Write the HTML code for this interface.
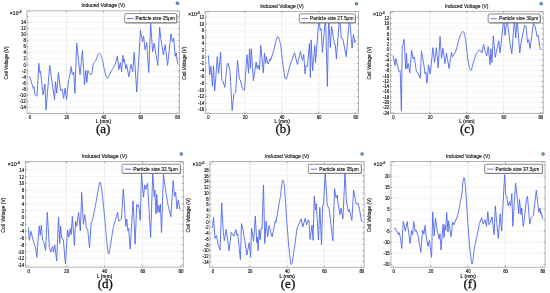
<!DOCTYPE html><html><head><meta charset="utf-8"><title>Induced Voltage</title>
<style>html,body{margin:0;padding:0;background:#fff}svg{display:block}text{font-family:"Liberation Sans",sans-serif;fill:#222;stroke:#222;stroke-width:.16px;paint-order:stroke}.t{stroke-width:.2px}.cap{font-family:"Liberation Serif",serif;fill:#111;stroke:#111;stroke-width:.3px}</style></head><body>
<svg width="550" height="293" viewBox="0 0 550 293">
<rect width="550" height="293" fill="#fff"/>
<defs><filter id="soft" x="0" y="0" width="100%" height="100%" filterUnits="userSpaceOnUse" color-interpolation-filters="sRGB"><feGaussianBlur stdDeviation="0.35"/></filter></defs>
<g filter="url(#soft)">
<g>
<path d="M27 107.32H179.4M27 101.26H179.4M27 95.2H179.4M27 89.14H179.4M27 83.08H179.4M27 77.02H179.4M27 70.96H179.4M27 64.9H179.4M27 58.84H179.4M27 52.78H179.4M27 46.72H179.4M27 40.66H179.4M27 34.6H179.4M27 28.54H179.4M27 22.48H179.4M27 16.42H179.4" stroke="#eeeeee" stroke-width="0.6" fill="none"/>
<path d="M66.47 10.85V113.4M103.45 10.85V113.4M140.43 10.85V113.4" stroke="#e2e2e2" stroke-width="0.6" fill="none"/>
<rect x="27" y="10.85" width="152.4" height="102.55" fill="none" stroke="#a4a4a4" stroke-width="0.8"/>
<path d="M29.5 113.4v-1.5M29.5 10.85v1.5M66.47 113.4v-1.5M66.47 10.85v1.5M103.45 113.4v-1.5M103.45 10.85v1.5M140.43 113.4v-1.5M140.43 10.85v1.5M177.4 113.4v-1.5M177.4 10.85v1.5M27 107.32h1.5M179.4 107.32h-1.5M27 101.26h1.5M179.4 101.26h-1.5M27 95.2h1.5M179.4 95.2h-1.5M27 89.14h1.5M179.4 89.14h-1.5M27 83.08h1.5M179.4 83.08h-1.5M27 77.02h1.5M179.4 77.02h-1.5M27 70.96h1.5M179.4 70.96h-1.5M27 64.9h1.5M179.4 64.9h-1.5M27 58.84h1.5M179.4 58.84h-1.5M27 52.78h1.5M179.4 52.78h-1.5M27 46.72h1.5M179.4 46.72h-1.5M27 40.66h1.5M179.4 40.66h-1.5M27 34.6h1.5M179.4 34.6h-1.5M27 28.54h1.5M179.4 28.54h-1.5M27 22.48h1.5M179.4 22.48h-1.5M27 16.42h1.5M179.4 16.42h-1.5" stroke="#6a6a6a" stroke-width="0.55" fill="none"/>
<clipPath id="ca"><rect x="27" y="10.85" width="152.4" height="102.55"/></clipPath>
<polyline clip-path="url(#ca)" points="29.6,76.2 32.19,84.6 33.3,88.5 33.85,86.7 35.14,94.8 36.99,96.3 38.84,63.3 39.76,72.6 40.5,71.1 43.09,94.8 44.93,84 46.04,110.1 49.74,65.4 54.54,99.9 55.47,81.6 56.76,93.3 58.42,72.6 60.64,90.6 62.12,89.1 63.59,98.4 65.07,88.2 66.55,99.3 68.58,79.5 69.32,78.6 71.17,66.6 72.28,74.7 73.76,72 74.86,93.3 76.71,43.2 80.04,74.7 82.44,50.4 84.47,84.6 85.76,70.5 86.87,82.5 87.8,70.5 89.64,74.1 91.68,74.1 92.02,72.6 92.34,70.41 92.65,67.95 92.98,65.64 93.34,63.9 93.74,62.89 94.18,62.33 94.63,61.97 95.09,61.58 95.56,60.9 96.04,59.82 96.54,58.5 97.04,57.12 97.52,55.86 97.96,54.9 98.34,54.24 98.68,53.77 98.99,53.48 99.3,53.36 99.62,53.4 99.96,53.64 100.3,54.09 100.64,54.69 100.97,55.38 101.28,56.1 101.56,56.81 101.8,57.55 102.04,58.39 102.29,59.38 102.58,60.6 102.9,62.12 103.23,63.89 103.59,65.81 103.99,67.75 104.42,69.6 104.9,71.6 105.42,73.84 105.98,75.94 106.57,77.54 107.19,78.3 107.86,77.98 108.57,76.82 109.31,75.16 110.09,73.34 110.89,71.7 111.77,70.22 112.73,68.68 113.69,67.1 114.58,65.5 115.32,63.9 117.36,55.8 118.83,69.6 120.31,62.4 121.61,71.7 122.9,55.2 123.64,62.1 124.38,59.4 125.85,69 126.59,64.5 128.81,76.8 131.03,64.5 132.69,71.7 134.17,52.5 136.75,92.1 140.45,30.3 142.48,41.7 143.59,36 145.07,49.8 146.73,42.6 148.76,72.6 150.61,22.8 152.64,51.9 154.12,43.2 157.82,65.4 159.66,27.3 160.77,38.1 163.36,54.9 165.21,44.7 167.61,65.4 170.93,33.9 172.41,41.7 173.7,38.1 175.18,56.4 176.11,52.8 177.77,63.9" fill="none" stroke="#5069ec" stroke-width="0.9" stroke-linejoin="round"/>
<text class="t" transform="translate(25.8 108.92) scale(.88 1)" font-size="4.8" text-anchor="end">-14</text>
<text class="t" transform="translate(25.8 102.86) scale(.88 1)" font-size="4.8" text-anchor="end">-12</text>
<text class="t" transform="translate(25.8 96.8) scale(.88 1)" font-size="4.8" text-anchor="end">-10</text>
<text class="t" transform="translate(25.8 90.74) scale(.88 1)" font-size="4.8" text-anchor="end">-8</text>
<text class="t" transform="translate(25.8 84.68) scale(.88 1)" font-size="4.8" text-anchor="end">-6</text>
<text class="t" transform="translate(25.8 78.62) scale(.88 1)" font-size="4.8" text-anchor="end">-4</text>
<text class="t" transform="translate(25.8 72.56) scale(.88 1)" font-size="4.8" text-anchor="end">-2</text>
<text class="t" transform="translate(25.8 66.5) scale(.88 1)" font-size="4.8" text-anchor="end">0</text>
<text class="t" transform="translate(25.8 60.44) scale(.88 1)" font-size="4.8" text-anchor="end">2</text>
<text class="t" transform="translate(25.8 54.38) scale(.88 1)" font-size="4.8" text-anchor="end">4</text>
<text class="t" transform="translate(25.8 48.32) scale(.88 1)" font-size="4.8" text-anchor="end">6</text>
<text class="t" transform="translate(25.8 42.26) scale(.88 1)" font-size="4.8" text-anchor="end">8</text>
<text class="t" transform="translate(25.8 36.2) scale(.88 1)" font-size="4.8" text-anchor="end">10</text>
<text class="t" transform="translate(25.8 30.14) scale(.88 1)" font-size="4.8" text-anchor="end">12</text>
<text class="t" transform="translate(25.8 24.08) scale(.88 1)" font-size="4.8" text-anchor="end">14</text>
<text class="t" transform="translate(29.8 118.6) scale(.88 1)" font-size="4.8" text-anchor="middle">0</text>
<text class="t" transform="translate(66.77 118.6) scale(.88 1)" font-size="4.8" text-anchor="middle">20</text>
<text class="t" transform="translate(103.75 118.6) scale(.88 1)" font-size="4.8" text-anchor="middle">40</text>
<text class="t" transform="translate(140.73 118.6) scale(.88 1)" font-size="4.8" text-anchor="middle">60</text>
<text class="t" transform="translate(177.7 118.6) scale(.88 1)" font-size="4.8" text-anchor="middle">80</text>
<text x="103.2" y="7.45" font-size="4.97" text-anchor="middle">Induced Voltage (V)</text>
<text x="103.5" y="123.15" font-size="4.5" letter-spacing="0.22" text-anchor="middle" style="stroke-width:.22px">L (mm)</text>
<text transform="translate(7.6 62.92) rotate(-90)" font-size="4.75" text-anchor="middle">Coil Voltage (V)</text>
<text x="21.6" y="15.1" font-size="5.2" text-anchor="end">×10<tspan dy="-1.7" font-size="3.4">-6</tspan></text>
<rect x="125.4" y="14.4" width="52" height="9.1" fill="#777" opacity="0.8" rx="1"/>
<rect x="124.7" y="13.6" width="52" height="9.1" fill="#fff" stroke="#666" stroke-width="0.75" rx="1"/>
<path d="M127 18.5h6.6" stroke="#5069ec" stroke-width="0.9"/>
<text x="135.5" y="19.9" font-size="4.8">Particle size 25μm</text>
<circle cx="177.4" cy="3.25" r="1.75" fill="#3f63b8"/><ellipse cx="177.3" cy="3.25" rx="0.55" ry="1.3" fill="#8fcf8a"/>
<text class="cap" transform="translate(103.1 132.8) scale(1.05 1)" font-size="12.4" text-anchor="middle">(a)</text>
</g>
<g>
<path d="M205.3 109.8H358.55M205.3 103.2H358.55M205.3 96.6H358.55M205.3 90H358.55M205.3 83.4H358.55M205.3 76.8H358.55M205.3 70.2H358.55M205.3 63.6H358.55M205.3 57H358.55M205.3 50.4H358.55M205.3 43.8H358.55M205.3 37.2H358.55M205.3 30.6H358.55M205.3 24H358.55M205.3 17.4H358.55" stroke="#eeeeee" stroke-width="0.6" fill="none"/>
<path d="M244.9 11.4V113.35M281.8 11.4V113.35M318.7 11.4V113.35" stroke="#e2e2e2" stroke-width="0.6" fill="none"/>
<rect x="205.3" y="11.4" width="153.25" height="101.95" fill="none" stroke="#a4a4a4" stroke-width="0.8"/>
<path d="M208 113.35v-1.5M208 11.4v1.5M244.9 113.35v-1.5M244.9 11.4v1.5M281.8 113.35v-1.5M281.8 11.4v1.5M318.7 113.35v-1.5M318.7 11.4v1.5M355.6 113.35v-1.5M355.6 11.4v1.5M205.3 109.8h1.5M358.55 109.8h-1.5M205.3 103.2h1.5M358.55 103.2h-1.5M205.3 96.6h1.5M358.55 96.6h-1.5M205.3 90h1.5M358.55 90h-1.5M205.3 83.4h1.5M358.55 83.4h-1.5M205.3 76.8h1.5M358.55 76.8h-1.5M205.3 70.2h1.5M358.55 70.2h-1.5M205.3 63.6h1.5M358.55 63.6h-1.5M205.3 57h1.5M358.55 57h-1.5M205.3 50.4h1.5M358.55 50.4h-1.5M205.3 43.8h1.5M358.55 43.8h-1.5M205.3 37.2h1.5M358.55 37.2h-1.5M205.3 30.6h1.5M358.55 30.6h-1.5M205.3 24h1.5M358.55 24h-1.5M205.3 17.4h1.5M358.55 17.4h-1.5" stroke="#6a6a6a" stroke-width="0.55" fill="none"/>
<clipPath id="cb"><rect x="205.3" y="11.4" width="153.25" height="101.95"/></clipPath>
<polyline clip-path="url(#cb)" points="208.37,55.38 209.66,74.85 210.95,66.27 212.43,86.4 213.53,65.61 214.64,91.02 215.75,78.48 217.22,56.7 218.7,73.53 220.55,52.08 221.84,80.13 222.76,80.79 224.79,87.39 227.19,63.96 228.11,63.3 229.96,70.56 232.17,110.49 233.83,94.65 235.68,92.34 237.52,60.33 239.37,79.14 240.29,79.8 242.32,88.71 244.53,90.03 246.93,54.72 248.59,73.2 249.51,48.78 250.44,68.25 251.36,48.78 253.39,80.79 256.15,61.98 257.08,68.58 258.18,64.95 259.48,69.9 260.77,45.15 263.35,72.87 264.46,53.07 265.56,63.3 266.3,56.7 267.96,63.96 270.18,58.35 270.35,58.43 270.38,59.14 270.38,59.97 270.46,60.42 270.73,60 271.27,58.43 271.99,56.03 272.8,53.24 273.58,50.46 274.24,48.12 274.74,46.21 275.17,44.46 275.55,42.87 275.91,41.45 276.26,40.2 276.62,39.08 276.96,38.09 277.29,37.29 277.61,36.76 277.93,36.57 278.23,36.78 278.53,37.36 278.82,38.19 279.11,39.17 279.4,40.2 279.68,41.13 279.96,42.04 280.23,43.14 280.54,44.65 280.88,46.8 281.26,49.87 281.68,53.7 282.13,57.88 282.6,61.99 283.09,65.61 283.59,69.1 284.09,72.73 284.62,75.98 285.2,78.29 285.86,79.14 286.61,78.04 287.44,75.36 288.32,71.81 289.22,68.1 290.1,64.95 294.53,52.74 297.48,64.62 300.43,51.42 302.46,60.33 303.76,54.39 305.05,73.86 305.97,65.61 307.26,66.93 309.48,43.5 310.4,77.49 311.14,39.87 312.61,70.89 314.83,45.48 315.56,62.64 319.07,17.1 320.18,30.3 321.1,28.65 322.39,52.41 325.53,17.1 327.37,86.4 328.66,17.1 330.32,47.46 331.62,26.34 334.57,44.49 335.31,44.49 336.41,59.01 339.55,17.1 341.39,38.55 342.87,38.88 346.19,56.7 349.51,17.1 352.09,48.12 353.39,34.26 354.86,42.51 355.97,40.2" fill="none" stroke="#5069ec" stroke-width="0.9" stroke-linejoin="round"/>
<text class="t" transform="translate(204.1 111.4) scale(.88 1)" font-size="4.8" text-anchor="end">-16</text>
<text class="t" transform="translate(204.1 104.8) scale(.88 1)" font-size="4.8" text-anchor="end">-14</text>
<text class="t" transform="translate(204.1 98.2) scale(.88 1)" font-size="4.8" text-anchor="end">-12</text>
<text class="t" transform="translate(204.1 91.6) scale(.88 1)" font-size="4.8" text-anchor="end">-10</text>
<text class="t" transform="translate(204.1 85) scale(.88 1)" font-size="4.8" text-anchor="end">-8</text>
<text class="t" transform="translate(204.1 78.4) scale(.88 1)" font-size="4.8" text-anchor="end">-6</text>
<text class="t" transform="translate(204.1 71.8) scale(.88 1)" font-size="4.8" text-anchor="end">-4</text>
<text class="t" transform="translate(204.1 65.2) scale(.88 1)" font-size="4.8" text-anchor="end">-2</text>
<text class="t" transform="translate(204.1 58.6) scale(.88 1)" font-size="4.8" text-anchor="end">0</text>
<text class="t" transform="translate(204.1 52) scale(.88 1)" font-size="4.8" text-anchor="end">2</text>
<text class="t" transform="translate(204.1 45.4) scale(.88 1)" font-size="4.8" text-anchor="end">4</text>
<text class="t" transform="translate(204.1 38.8) scale(.88 1)" font-size="4.8" text-anchor="end">6</text>
<text class="t" transform="translate(204.1 32.2) scale(.88 1)" font-size="4.8" text-anchor="end">8</text>
<text class="t" transform="translate(204.1 25.6) scale(.88 1)" font-size="4.8" text-anchor="end">10</text>
<text class="t" transform="translate(204.1 19) scale(.88 1)" font-size="4.8" text-anchor="end">12</text>
<text class="t" transform="translate(208.3 118.55) scale(.88 1)" font-size="4.8" text-anchor="middle">0</text>
<text class="t" transform="translate(245.2 118.55) scale(.88 1)" font-size="4.8" text-anchor="middle">20</text>
<text class="t" transform="translate(282.1 118.55) scale(.88 1)" font-size="4.8" text-anchor="middle">40</text>
<text class="t" transform="translate(319 118.55) scale(.88 1)" font-size="4.8" text-anchor="middle">60</text>
<text class="t" transform="translate(355.9 118.55) scale(.88 1)" font-size="4.8" text-anchor="middle">80</text>
<text x="281.93" y="8" font-size="4.97" text-anchor="middle">Induced Voltage (V)</text>
<text x="282.23" y="123.1" font-size="4.5" letter-spacing="0.22" text-anchor="middle" style="stroke-width:.22px">L (mm)</text>
<text transform="translate(185.9 63.17) rotate(-90)" font-size="4.75" text-anchor="middle">Coil Voltage (V)</text>
<text x="199.9" y="15.65" font-size="5.2" text-anchor="end">×10<tspan dy="-1.7" font-size="3.4">-6</tspan></text>
<rect x="300" y="14.7" width="56" height="8.8" fill="#777" opacity="0.8" rx="1"/>
<rect x="299.3" y="13.9" width="56" height="8.8" fill="#fff" stroke="#666" stroke-width="0.75" rx="1"/>
<path d="M301.6 18.65h6.6" stroke="#5069ec" stroke-width="0.9"/>
<text x="310.1" y="20.05" font-size="4.8">Particle size 27.5μm</text>
<circle cx="356.55" cy="3.8" r="1.75" fill="#3f63b8"/><ellipse cx="356.45" cy="3.8" rx="0.55" ry="1.3" fill="#8fcf8a"/>
<text class="cap" transform="translate(283.1 132.8) scale(1.05 1)" font-size="12.4" text-anchor="middle">(b)</text>
</g>
<g>
<path d="M390.3 112.92H543.2M390.3 107.65H543.2M390.3 102.38H543.2M390.3 97.11H543.2M390.3 91.84H543.2M390.3 86.58H543.2M390.3 81.31H543.2M390.3 76.04H543.2M390.3 70.77H543.2M390.3 65.5H543.2M390.3 60.24H543.2M390.3 54.97H543.2M390.3 49.7H543.2M390.3 44.43H543.2M390.3 39.16H543.2M390.3 33.9H543.2M390.3 28.63H543.2M390.3 23.36H543.2M390.3 18.09H543.2M390.3 12.82H543.2" stroke="#eeeeee" stroke-width="0.6" fill="none"/>
<path d="M429.88 11.3V113.35M466.75 11.3V113.35M503.62 11.3V113.35" stroke="#e2e2e2" stroke-width="0.6" fill="none"/>
<rect x="390.3" y="11.3" width="152.9" height="102.05" fill="none" stroke="#a4a4a4" stroke-width="0.8"/>
<path d="M393 113.35v-1.5M393 11.3v1.5M429.88 113.35v-1.5M429.88 11.3v1.5M466.75 113.35v-1.5M466.75 11.3v1.5M503.62 113.35v-1.5M503.62 11.3v1.5M540.5 113.35v-1.5M540.5 11.3v1.5M390.3 112.92h1.5M543.2 112.92h-1.5M390.3 107.65h1.5M543.2 107.65h-1.5M390.3 102.38h1.5M543.2 102.38h-1.5M390.3 97.11h1.5M543.2 97.11h-1.5M390.3 91.84h1.5M543.2 91.84h-1.5M390.3 86.58h1.5M543.2 86.58h-1.5M390.3 81.31h1.5M543.2 81.31h-1.5M390.3 76.04h1.5M543.2 76.04h-1.5M390.3 70.77h1.5M543.2 70.77h-1.5M390.3 65.5h1.5M543.2 65.5h-1.5M390.3 60.24h1.5M543.2 60.24h-1.5M390.3 54.97h1.5M543.2 54.97h-1.5M390.3 49.7h1.5M543.2 49.7h-1.5M390.3 44.43h1.5M543.2 44.43h-1.5M390.3 39.16h1.5M543.2 39.16h-1.5M390.3 33.9h1.5M543.2 33.9h-1.5M390.3 28.63h1.5M543.2 28.63h-1.5M390.3 23.36h1.5M543.2 23.36h-1.5M390.3 18.09h1.5M543.2 18.09h-1.5M390.3 12.82h1.5M543.2 12.82h-1.5" stroke="#6a6a6a" stroke-width="0.55" fill="none"/>
<clipPath id="cc"><rect x="390.3" y="11.3" width="152.9" height="102.05"/></clipPath>
<polyline clip-path="url(#cc)" points="393,55.54 395.03,65.46 395.95,58.41 398.9,71.46 400.2,70.68 401.39,110.61 402.23,45.36 403.15,44.84 404.07,39.36 405.73,69.11 406.47,53.19 407.21,68.59 408.13,63.37 409.79,72.77 411.63,50.32 413.11,58.93 414.22,56.85 416.43,71.72 417.91,72.77 420.31,78.25 421.41,51.1 422.89,58.41 425.1,73.81 425.84,71.98 426.95,83.21 428.61,64.94 430.27,74.07 432.85,47.71 434.51,62.59 436.36,47.71 438.2,68.07 440.05,36.49 441.52,58.41 443,48.23 445.03,63.63 446.5,53.19 449.09,68.59 451.49,52.41 452.41,56.85 455.55,51.89 456.27,49.63 457.06,46.78 457.85,43.72 458.59,40.86 459.24,38.58 459.75,36.97 460.18,35.76 460.56,34.83 460.91,34.07 461.26,33.36 461.62,32.66 461.96,32.06 462.29,31.6 462.61,31.32 462.93,31.27 463.23,31.45 463.53,31.83 463.82,32.42 464.11,33.19 464.4,34.14 464.68,35.16 464.96,36.25 465.23,37.59 465.54,39.35 465.88,41.71 466.26,45.02 466.68,49.18 467.13,53.63 467.6,57.85 468.09,61.28 468.62,64.05 469.18,66.49 469.75,68.47 470.32,69.83 470.86,70.42 471.35,70.01 471.8,68.69 472.25,66.83 472.72,64.76 473.26,62.85 473.87,60.95 474.54,58.84 475.23,56.71 475.92,54.76 476.58,53.19 479.53,49.8 481.93,52.93 483.59,44.58 485.43,52.41 486.73,56.06 488.2,46.67 490.05,64.68 490.97,48.76 491.89,62.59 493.37,35.71 495.21,57.37 498.72,40.93 500.01,52.93 501.49,40.14 503.7,18.48 505.08,35.45 507.02,18.48 510.34,45.62 511.82,53.71 514.4,18.48 515.78,38.05 517.17,18.48 519.75,52.93 521.04,42.49 524.55,25.53 526.02,26.31 527.5,42.49 528.61,39.62 530.08,48.49 533.4,23.44 535.43,27.09 536.91,36.49 538.2,35.18 539.86,47.45 540.6,49.8" fill="none" stroke="#5069ec" stroke-width="0.9" stroke-linejoin="round"/>
<text class="t" transform="translate(389.1 114.52) scale(.88 1)" font-size="4.8" text-anchor="end">-24</text>
<text class="t" transform="translate(389.1 109.25) scale(.88 1)" font-size="4.8" text-anchor="end">-22</text>
<text class="t" transform="translate(389.1 103.98) scale(.88 1)" font-size="4.8" text-anchor="end">-20</text>
<text class="t" transform="translate(389.1 98.71) scale(.88 1)" font-size="4.8" text-anchor="end">-18</text>
<text class="t" transform="translate(389.1 93.44) scale(.88 1)" font-size="4.8" text-anchor="end">-16</text>
<text class="t" transform="translate(389.1 88.18) scale(.88 1)" font-size="4.8" text-anchor="end">-14</text>
<text class="t" transform="translate(389.1 82.91) scale(.88 1)" font-size="4.8" text-anchor="end">-12</text>
<text class="t" transform="translate(389.1 77.64) scale(.88 1)" font-size="4.8" text-anchor="end">-10</text>
<text class="t" transform="translate(389.1 72.37) scale(.88 1)" font-size="4.8" text-anchor="end">-8</text>
<text class="t" transform="translate(389.1 67.1) scale(.88 1)" font-size="4.8" text-anchor="end">-6</text>
<text class="t" transform="translate(389.1 61.84) scale(.88 1)" font-size="4.8" text-anchor="end">-4</text>
<text class="t" transform="translate(389.1 56.57) scale(.88 1)" font-size="4.8" text-anchor="end">-2</text>
<text class="t" transform="translate(389.1 51.3) scale(.88 1)" font-size="4.8" text-anchor="end">0</text>
<text class="t" transform="translate(389.1 46.03) scale(.88 1)" font-size="4.8" text-anchor="end">2</text>
<text class="t" transform="translate(389.1 40.76) scale(.88 1)" font-size="4.8" text-anchor="end">4</text>
<text class="t" transform="translate(389.1 35.5) scale(.88 1)" font-size="4.8" text-anchor="end">6</text>
<text class="t" transform="translate(389.1 30.23) scale(.88 1)" font-size="4.8" text-anchor="end">8</text>
<text class="t" transform="translate(389.1 24.96) scale(.88 1)" font-size="4.8" text-anchor="end">10</text>
<text class="t" transform="translate(389.1 19.69) scale(.88 1)" font-size="4.8" text-anchor="end">12</text>
<text class="t" transform="translate(393.3 118.55) scale(.88 1)" font-size="4.8" text-anchor="middle">0</text>
<text class="t" transform="translate(430.18 118.55) scale(.88 1)" font-size="4.8" text-anchor="middle">20</text>
<text class="t" transform="translate(467.05 118.55) scale(.88 1)" font-size="4.8" text-anchor="middle">40</text>
<text class="t" transform="translate(503.93 118.55) scale(.88 1)" font-size="4.8" text-anchor="middle">60</text>
<text class="t" transform="translate(540.8 118.55) scale(.88 1)" font-size="4.8" text-anchor="middle">80</text>
<text x="466.75" y="7.9" font-size="4.97" text-anchor="middle">Induced Voltage (V)</text>
<text x="467.05" y="123.1" font-size="4.5" letter-spacing="0.22" text-anchor="middle" style="stroke-width:.22px">L (mm)</text>
<text transform="translate(370.9 63.12) rotate(-90)" font-size="4.75" text-anchor="middle">Coil Voltage (V)</text>
<text x="384.9" y="15.55" font-size="5.2" text-anchor="end">×10<tspan dy="-1.7" font-size="3.4">-6</tspan></text>
<rect x="488.9" y="14.8" width="52" height="8.7" fill="#777" opacity="0.8" rx="1"/>
<rect x="488.2" y="14" width="52" height="8.7" fill="#fff" stroke="#666" stroke-width="0.75" rx="1"/>
<path d="M490.5 18.7h6.6" stroke="#5069ec" stroke-width="0.9"/>
<text x="499" y="20.1" font-size="4.8">Particle size 30μm</text>
<circle cx="541.2" cy="3.7" r="1.75" fill="#3f63b8"/><ellipse cx="541.1" cy="3.7" rx="0.55" ry="1.3" fill="#8fcf8a"/>
<text class="cap" transform="translate(467.2 132.8) scale(1.05 1)" font-size="12.4" text-anchor="middle">(c)</text>
</g>
<g>
<path d="M25.4 265.07H183.3M25.4 258.26H183.3M25.4 251.45H183.3M25.4 244.64H183.3M25.4 237.83H183.3M25.4 231.02H183.3M25.4 224.21H183.3M25.4 217.4H183.3M25.4 210.59H183.3M25.4 203.78H183.3M25.4 196.97H183.3M25.4 190.16H183.3M25.4 183.35H183.3M25.4 176.54H183.3M25.4 169.73H183.3M25.4 162.92H183.3" stroke="#eeeeee" stroke-width="0.6" fill="none"/>
<path d="M66.38 161.55V267.1M104.45 161.55V267.1M142.53 161.55V267.1" stroke="#e2e2e2" stroke-width="0.6" fill="none"/>
<rect x="25.4" y="161.55" width="157.9" height="105.55" fill="none" stroke="#a4a4a4" stroke-width="0.8"/>
<path d="M28.3 267.1v-1.5M28.3 161.55v1.5M66.38 267.1v-1.5M66.38 161.55v1.5M104.45 267.1v-1.5M104.45 161.55v1.5M142.53 267.1v-1.5M142.53 161.55v1.5M180.6 267.1v-1.5M180.6 161.55v1.5M25.4 265.07h1.5M183.3 265.07h-1.5M25.4 258.26h1.5M183.3 258.26h-1.5M25.4 251.45h1.5M183.3 251.45h-1.5M25.4 244.64h1.5M183.3 244.64h-1.5M25.4 237.83h1.5M183.3 237.83h-1.5M25.4 231.02h1.5M183.3 231.02h-1.5M25.4 224.21h1.5M183.3 224.21h-1.5M25.4 217.4h1.5M183.3 217.4h-1.5M25.4 210.59h1.5M183.3 210.59h-1.5M25.4 203.78h1.5M183.3 203.78h-1.5M25.4 196.97h1.5M183.3 196.97h-1.5M25.4 190.16h1.5M183.3 190.16h-1.5M25.4 183.35h1.5M183.3 183.35h-1.5M25.4 176.54h1.5M183.3 176.54h-1.5M25.4 169.73h1.5M183.3 169.73h-1.5M25.4 162.92h1.5M183.3 162.92h-1.5" stroke="#6a6a6a" stroke-width="0.55" fill="none"/>
<clipPath id="cd"><rect x="25.4" y="161.55" width="157.9" height="105.55"/></clipPath>
<polyline clip-path="url(#cd)" points="28.39,227.2 29.35,240.38 30.87,231.26 33.55,242.07 35.65,247.82 36.8,257.28 39.28,225.85 40.23,235.31 41.38,225.17 42.52,240.38 43.67,241.4 45.58,250.52 47.3,212.33 49.4,247.82 50.93,252.21 52.46,246.47 53.6,252.21 54.75,244.78 56.66,261 58.57,217.4 59.71,243.43 60.67,226.19 61.43,237 63.34,239.71 65.44,264.04 67.55,229.91 68.88,237 70.22,228.55 71.17,234.64 72.32,216.39 74.42,245.45 75.57,221.12 76.71,226.19 78.62,212.33 80.34,230.92 81.68,192.39 83.4,224.16 84.74,214.7 86.45,227.88 87.79,229.91 89.51,247.82 91.23,222.47 92.38,220.44 92.84,218.47 93.4,215.86 94.01,212.87 94.64,209.7 95.24,206.58 95.83,203.37 96.43,199.89 97.03,196.4 97.59,193.15 98.11,190.36 98.55,187.9 98.95,185.61 99.31,183.7 99.66,182.39 100.02,181.91 100.37,182.38 100.71,183.67 101.04,185.56 101.38,187.86 101.73,190.36 102.1,193.15 102.49,196.35 102.87,199.85 103.26,203.53 103.64,207.26 104.03,211.15 104.43,215.29 104.82,219.51 105.2,223.65 105.55,227.54 105.89,231.25 106.19,234.88 106.49,238.35 106.78,241.57 107.08,244.44 107.39,247.14 107.69,249.73 107.99,251.95 108.29,253.54 108.61,254.24 108.93,253.89 109.25,252.66 109.58,250.79 109.93,248.54 110.33,246.13 110.8,243.29 111.32,239.86 111.87,236.27 112.38,232.92 112.81,230.24 113.12,228.49 113.33,227.38 113.52,226.54 113.77,225.59 114.15,224.16 117.59,212.33 118.54,221.12 121.41,219.09 123.32,189.01 125.8,226.19 126.76,219.09 127.9,230.92 128.67,228.22 130.19,249.17 133.06,200.84 135.16,244.1 136.69,204.56 137.64,206.58 138.6,204.56 140.32,220.44 141.46,173.8 143.56,197.12 144.71,184.95 145.86,189.35 147.57,183.26 150.63,237.34 152.73,173.46 154.26,196.44 154.83,190.02 155.98,214.02 156.74,194.42 157.89,212.33 158.84,205.57 159.61,212.33 160.37,203.88 161.52,232.61 163.43,174.47 165.15,186.98 168.01,205.23 170.88,216.72 173.17,180.56 174.51,196.44 175.65,192.05 176.99,208.95 178.33,199.82 179.85,209.63" fill="none" stroke="#5069ec" stroke-width="0.9" stroke-linejoin="round"/>
<text class="t" transform="translate(24.2 267.13) scale(.88 1)" font-size="4.97" text-anchor="end">-14</text>
<text class="t" transform="translate(24.2 260.32) scale(.88 1)" font-size="4.97" text-anchor="end">-12</text>
<text class="t" transform="translate(24.2 253.51) scale(.88 1)" font-size="4.97" text-anchor="end">-10</text>
<text class="t" transform="translate(24.2 246.7) scale(.88 1)" font-size="4.97" text-anchor="end">-8</text>
<text class="t" transform="translate(24.2 239.89) scale(.88 1)" font-size="4.97" text-anchor="end">-6</text>
<text class="t" transform="translate(24.2 233.08) scale(.88 1)" font-size="4.97" text-anchor="end">-4</text>
<text class="t" transform="translate(24.2 226.27) scale(.88 1)" font-size="4.97" text-anchor="end">-2</text>
<text class="t" transform="translate(24.2 219.46) scale(.88 1)" font-size="4.97" text-anchor="end">0</text>
<text class="t" transform="translate(24.2 212.65) scale(.88 1)" font-size="4.97" text-anchor="end">2</text>
<text class="t" transform="translate(24.2 205.84) scale(.88 1)" font-size="4.97" text-anchor="end">4</text>
<text class="t" transform="translate(24.2 199.03) scale(.88 1)" font-size="4.97" text-anchor="end">6</text>
<text class="t" transform="translate(24.2 192.22) scale(.88 1)" font-size="4.97" text-anchor="end">8</text>
<text class="t" transform="translate(24.2 185.41) scale(.88 1)" font-size="4.97" text-anchor="end">10</text>
<text class="t" transform="translate(24.2 178.6) scale(.88 1)" font-size="4.97" text-anchor="end">12</text>
<text class="t" transform="translate(24.2 171.79) scale(.88 1)" font-size="4.97" text-anchor="end">14</text>
<text class="t" transform="translate(28.6 273.38) scale(.88 1)" font-size="4.97" text-anchor="middle">0</text>
<text class="t" transform="translate(66.67 273.38) scale(.88 1)" font-size="4.97" text-anchor="middle">20</text>
<text class="t" transform="translate(104.75 273.38) scale(.88 1)" font-size="4.97" text-anchor="middle">40</text>
<text class="t" transform="translate(142.83 273.38) scale(.88 1)" font-size="4.97" text-anchor="middle">60</text>
<text class="t" transform="translate(180.9 273.38) scale(.88 1)" font-size="4.97" text-anchor="middle">80</text>
<text x="104.35" y="158.03" font-size="5.14" text-anchor="middle">Induced Voltage (V)</text>
<text x="104.65" y="278.09" font-size="4.66" letter-spacing="0.22" text-anchor="middle" style="stroke-width:.22px">L (mm)</text>
<text transform="translate(5.32 215.13) rotate(-90)" font-size="5.05" text-anchor="middle">Coil Voltage (V)</text>
<text x="20" y="165.95" font-size="5.38" text-anchor="end">×10<tspan dy="-1.76" font-size="3.52">-6</tspan></text>
<rect x="122.8" y="165.1" width="58.2" height="9" fill="#777" opacity="0.8" rx="1"/>
<rect x="122.1" y="164.3" width="58.2" height="9" fill="#fff" stroke="#666" stroke-width="0.75" rx="1"/>
<path d="M124.48 169.15h6.83" stroke="#5069ec" stroke-width="0.9"/>
<text x="133.28" y="170.61" font-size="4.97">Particle size 32.5μm</text>
<circle cx="181.3" cy="153.95" r="1.75" fill="#3f63b8"/><ellipse cx="181.2" cy="153.95" rx="0.55" ry="1.3" fill="#8fcf8a"/>
<text class="cap" transform="translate(105.3 287.9) scale(1.05 1)" font-size="12.4" text-anchor="middle">(d)</text>
</g>
<g>
<path d="M209.85 261.77H364.1M209.85 256.03H364.1M209.85 250.29H364.1M209.85 244.55H364.1M209.85 238.81H364.1M209.85 233.08H364.1M209.85 227.34H364.1M209.85 221.6H364.1M209.85 215.86H364.1M209.85 210.12H364.1M209.85 204.39H364.1M209.85 198.65H364.1M209.85 192.91H364.1M209.85 187.17H364.1M209.85 181.43H364.1M209.85 175.7H364.1M209.85 169.96H364.1M209.85 164.22H364.1" stroke="#eeeeee" stroke-width="0.6" fill="none"/>
<path d="M249.82 161.55V267.3M287.05 161.55V267.3M324.27 161.55V267.3" stroke="#e2e2e2" stroke-width="0.6" fill="none"/>
<rect x="209.85" y="161.55" width="154.25" height="105.75" fill="none" stroke="#a4a4a4" stroke-width="0.8"/>
<path d="M212.6 267.3v-1.5M212.6 161.55v1.5M249.82 267.3v-1.5M249.82 161.55v1.5M287.05 267.3v-1.5M287.05 161.55v1.5M324.27 267.3v-1.5M324.27 161.55v1.5M361.5 267.3v-1.5M361.5 161.55v1.5M209.85 261.77h1.5M364.1 261.77h-1.5M209.85 256.03h1.5M364.1 256.03h-1.5M209.85 250.29h1.5M364.1 250.29h-1.5M209.85 244.55h1.5M364.1 244.55h-1.5M209.85 238.81h1.5M364.1 238.81h-1.5M209.85 233.08h1.5M364.1 233.08h-1.5M209.85 227.34h1.5M364.1 227.34h-1.5M209.85 221.6h1.5M364.1 221.6h-1.5M209.85 215.86h1.5M364.1 215.86h-1.5M209.85 210.12h1.5M364.1 210.12h-1.5M209.85 204.39h1.5M364.1 204.39h-1.5M209.85 198.65h1.5M364.1 198.65h-1.5M209.85 192.91h1.5M364.1 192.91h-1.5M209.85 187.17h1.5M364.1 187.17h-1.5M209.85 181.43h1.5M364.1 181.43h-1.5M209.85 175.7h1.5M364.1 175.7h-1.5M209.85 169.96h1.5M364.1 169.96h-1.5M209.85 164.22h1.5M364.1 164.22h-1.5" stroke="#6a6a6a" stroke-width="0.55" fill="none"/>
<clipPath id="ce"><rect x="209.85" y="161.55" width="154.25" height="105.75"/></clipPath>
<polyline clip-path="url(#ce)" points="212.4,227.8 213.52,217.49 215.01,238.39 216.5,235.24 217.81,243.54 220.05,250.12 221.72,202.89 223.22,232.09 224.34,240.68 226.2,229.23 229,250.7 231.24,232.38 233.85,236.1 235.9,229.51 237.02,235.53 237.76,233.81 240.38,259.57 241.49,223.5 242.99,229.8 245.04,242.11 246.9,254.99 249.14,242.68 250.63,257.28 251.56,228.37 253.62,241.25 255.3,216.06 256.79,242.68 257.35,237.24 258.09,250.7 259.21,229.8 260.14,239.82 261.08,228.37 262.01,228.94 263.5,185 264.81,243.54 266.11,221.21 267.6,236.96 269.1,225.51 272.08,236.96 275.25,221.21 275.51,220.6 275.6,221.23 275.63,222.22 275.72,222.69 276,221.79 276.53,218.98 277.25,214.87 278.03,210.2 278.77,205.77 279.35,202.32 279.75,200.11 280.03,198.63 280.25,197.51 280.44,196.38 280.66,194.88 280.9,192.86 281.13,190.57 281.35,188.22 281.57,186.05 281.78,184.29 281.97,182.89 282.15,181.7 282.32,180.79 282.5,180.2 282.71,179.99 282.95,180.19 283.21,180.75 283.49,181.64 283.76,182.83 284.02,184.29 284.25,185.96 284.47,187.89 284.68,190.11 284.9,192.71 285.13,195.74 285.38,199.43 285.64,203.76 285.91,208.35 286.18,212.86 286.44,216.92 286.7,220.48 286.97,223.79 287.24,226.91 287.5,229.94 287.75,232.95 287.96,235.88 288.14,238.66 288.33,241.41 288.56,244.24 288.87,247.26 289.26,251.02 289.72,255.44 290.23,259.7 290.76,262.97 291.29,264.44 291.83,263.67 292.39,261.21 292.96,257.71 293.53,253.8 294.09,250.12 294.65,246.37 295.22,242.1 295.77,237.8 296.27,233.93 296.7,230.95 296.98,229.14 297.15,228.2 297.28,227.7 297.47,227.23 297.82,226.37 301.17,218.92 302.85,226.94 305.09,218.35 306.58,224.94 308.07,219.78 309.01,220.93 310.13,239.53 311.99,224.94 313.11,240.39 314.23,196.31 315.35,210.05 316.28,203.47 318.52,240.11 319.82,207.47 321.5,244.97 322.62,205.18 323.55,204.9 325.23,172.84 327.28,205.18 329.15,208.91 332.88,240.68 334.56,188.58 336.05,198.03 337.36,194.88 337.73,201.46 339.97,214.63 341.09,208.05 342.95,218.92 345,172.84 346.49,202.03 348.36,211.77 349.29,209.48 351.9,220.35 353.58,190.01 355.26,198.6 356,203.75 358.24,203.47 359.36,208.62 361.6,221.79" fill="none" stroke="#5069ec" stroke-width="0.9" stroke-linejoin="round"/>
<text class="t" transform="translate(208.65 263.78) scale(.88 1)" font-size="4.85" text-anchor="end">-14</text>
<text class="t" transform="translate(208.65 258.05) scale(.88 1)" font-size="4.85" text-anchor="end">-12</text>
<text class="t" transform="translate(208.65 252.31) scale(.88 1)" font-size="4.85" text-anchor="end">-10</text>
<text class="t" transform="translate(208.65 246.57) scale(.88 1)" font-size="4.85" text-anchor="end">-8</text>
<text class="t" transform="translate(208.65 240.83) scale(.88 1)" font-size="4.85" text-anchor="end">-6</text>
<text class="t" transform="translate(208.65 235.09) scale(.88 1)" font-size="4.85" text-anchor="end">-4</text>
<text class="t" transform="translate(208.65 229.36) scale(.88 1)" font-size="4.85" text-anchor="end">-2</text>
<text class="t" transform="translate(208.65 223.62) scale(.88 1)" font-size="4.85" text-anchor="end">0</text>
<text class="t" transform="translate(208.65 217.88) scale(.88 1)" font-size="4.85" text-anchor="end">2</text>
<text class="t" transform="translate(208.65 212.14) scale(.88 1)" font-size="4.85" text-anchor="end">4</text>
<text class="t" transform="translate(208.65 206.4) scale(.88 1)" font-size="4.85" text-anchor="end">6</text>
<text class="t" transform="translate(208.65 200.67) scale(.88 1)" font-size="4.85" text-anchor="end">8</text>
<text class="t" transform="translate(208.65 194.93) scale(.88 1)" font-size="4.85" text-anchor="end">10</text>
<text class="t" transform="translate(208.65 189.19) scale(.88 1)" font-size="4.85" text-anchor="end">12</text>
<text class="t" transform="translate(208.65 183.45) scale(.88 1)" font-size="4.85" text-anchor="end">14</text>
<text class="t" transform="translate(208.65 177.71) scale(.88 1)" font-size="4.85" text-anchor="end">16</text>
<text class="t" transform="translate(208.65 171.98) scale(.88 1)" font-size="4.85" text-anchor="end">18</text>
<text class="t" transform="translate(212.9 273.45) scale(.88 1)" font-size="4.85" text-anchor="middle">0</text>
<text class="t" transform="translate(250.12 273.45) scale(.88 1)" font-size="4.85" text-anchor="middle">20</text>
<text class="t" transform="translate(287.35 273.45) scale(.88 1)" font-size="4.85" text-anchor="middle">40</text>
<text class="t" transform="translate(324.57 273.45) scale(.88 1)" font-size="4.85" text-anchor="middle">60</text>
<text class="t" transform="translate(361.8 273.45) scale(.88 1)" font-size="4.85" text-anchor="middle">80</text>
<text x="286.98" y="158.12" font-size="5.02" text-anchor="middle">Induced Voltage (V)</text>
<text x="287.28" y="278.05" font-size="4.54" letter-spacing="0.22" text-anchor="middle" style="stroke-width:.22px">L (mm)</text>
<text transform="translate(190.26 215.23) rotate(-90)" font-size="4.95" text-anchor="middle">Coil Voltage (V)</text>
<text x="204.45" y="165.84" font-size="5.25" text-anchor="end">×10<tspan dy="-1.72" font-size="3.43">-6</tspan></text>
<rect x="309" y="165.1" width="53" height="9" fill="#777" opacity="0.8" rx="1"/>
<rect x="308.3" y="164.3" width="53" height="9" fill="#fff" stroke="#666" stroke-width="0.75" rx="1"/>
<path d="M310.62 169.15h6.67" stroke="#5069ec" stroke-width="0.9"/>
<text x="319.21" y="170.57" font-size="4.85">Particle size 35μm</text>
<circle cx="362.1" cy="153.95" r="1.75" fill="#3f63b8"/><ellipse cx="362" cy="153.95" rx="0.55" ry="1.3" fill="#8fcf8a"/>
<text class="cap" transform="translate(288 287.9) scale(1.05 1)" font-size="12.4" text-anchor="middle">(e)</text>
</g>
<g>
<path d="M390.9 264.28H545.05M390.9 253.26H545.05M390.9 242.24H545.05M390.9 231.22H545.05M390.9 220.2H545.05M390.9 209.18H545.05M390.9 198.16H545.05M390.9 187.14H545.05M390.9 176.12H545.05M390.9 165.1H545.05" stroke="#eeeeee" stroke-width="0.6" fill="none"/>
<path d="M430.66 161.55V267.2M467.93 161.55V267.2M505.19 161.55V267.2" stroke="#e2e2e2" stroke-width="0.6" fill="none"/>
<rect x="390.9" y="161.55" width="154.15" height="105.65" fill="none" stroke="#a4a4a4" stroke-width="0.8"/>
<path d="M393.4 267.2v-1.5M393.4 161.55v1.5M430.66 267.2v-1.5M430.66 161.55v1.5M467.93 267.2v-1.5M467.93 161.55v1.5M505.19 267.2v-1.5M505.19 161.55v1.5M542.45 267.2v-1.5M542.45 161.55v1.5M390.9 264.28h1.5M545.05 264.28h-1.5M390.9 253.26h1.5M545.05 253.26h-1.5M390.9 242.24h1.5M545.05 242.24h-1.5M390.9 231.22h1.5M545.05 231.22h-1.5M390.9 220.2h1.5M545.05 220.2h-1.5M390.9 209.18h1.5M545.05 209.18h-1.5M390.9 198.16h1.5M545.05 198.16h-1.5M390.9 187.14h1.5M545.05 187.14h-1.5M390.9 176.12h1.5M545.05 176.12h-1.5M390.9 165.1h1.5M545.05 165.1h-1.5" stroke="#6a6a6a" stroke-width="0.55" fill="none"/>
<clipPath id="cf"><rect x="390.9" y="161.55" width="154.15" height="105.65"/></clipPath>
<polyline clip-path="url(#cf)" points="393.79,229.2 395.09,228.1 396.95,231.4 398.44,234.7 399.19,232.5 400.68,239.1 401.8,248.56 403.29,221.28 405.33,230.96 407.2,221.5 410.18,243.5 411.48,230.52 412.6,234.7 413.72,221.5 415.21,231.4 415.95,229.86 418.19,236.24 420.79,252.3 422.66,230.08 423.96,234.04 425.08,225.46 426.57,239.1 428.06,246.36 429.36,240.42 431.6,257.36 432.71,211.82 434.2,235.8 435.51,218.2 437.56,232.5 439.23,239.1 439.98,233.6 441.09,250.1 443.14,224.14 444.07,237.56 445,224.8 445.75,230.3 446.68,212.48 447.99,232.06 448.54,220.84 451.15,236.9 452.64,221.94 453.95,224.8 456.55,218.2 456.78,217.85 456.88,218.02 456.93,218.26 457.04,218.1 457.3,217.1 457.77,214.92 458.4,211.88 459.09,208.45 459.74,205.12 460.28,202.36 460.68,200.32 461,198.68 461.27,197.23 461.52,195.74 461.77,194 462.02,191.88 462.25,189.53 462.46,187.13 462.67,184.89 462.89,183 463.1,181.39 463.3,179.93 463.5,178.72 463.71,177.88 463.91,177.5 464.11,177.61 464.31,178.12 464.52,179.03 464.72,180.3 464.93,181.9 465.14,183.68 465.33,185.65 465.53,188.05 465.77,191.12 466.05,195.1 466.4,200.44 466.81,206.99 467.25,214.06 467.69,220.95 468.1,227 468.48,232.14 468.84,236.84 469.2,241.17 469.57,245.19 469.96,249 470.39,252.96 470.84,257.02 471.3,260.62 471.76,263.2 472.2,264.18 472.59,263.14 472.94,260.46 473.3,256.78 473.72,252.75 474.25,249 474.95,245.3 475.8,241.2 476.69,237.09 477.51,233.34 478.16,230.3 478.57,228.16 478.82,226.67 479,225.57 479.18,224.6 479.46,223.48 481.7,217.54 483.19,224.14 485.05,219.74 486.54,226.34 487.84,211.6 488.96,224.8 490.45,221.94 491.94,216.88 494.18,234.7 495.29,205.88 498.27,238.44 500.14,213.8 501.62,231.18 504.61,174.64 505.72,195.1 506.65,196.2 508.14,205.88 509.45,201.7 510.57,206.1 511.87,193.56 512.8,226.34 515.59,183 517.64,201.7 518.76,213.8 519.5,199.5 521,214.68 521.74,208.08 523.23,226.34 524.53,217.54 526.4,199.5 527.51,196.2 529.75,224.14 531.24,217.54 533.29,215.34 536.27,190.26 538.88,212.48 539.99,208.08 540.74,213.8 541.3,212.48 542.6,219.08" fill="none" stroke="#5069ec" stroke-width="0.9" stroke-linejoin="round"/>
<text class="t" transform="translate(389.7 266.3) scale(.88 1)" font-size="4.85" text-anchor="end">-20</text>
<text class="t" transform="translate(389.7 255.28) scale(.88 1)" font-size="4.85" text-anchor="end">-15</text>
<text class="t" transform="translate(389.7 244.26) scale(.88 1)" font-size="4.85" text-anchor="end">-10</text>
<text class="t" transform="translate(389.7 233.24) scale(.88 1)" font-size="4.85" text-anchor="end">-5</text>
<text class="t" transform="translate(389.7 222.22) scale(.88 1)" font-size="4.85" text-anchor="end">0</text>
<text class="t" transform="translate(389.7 211.2) scale(.88 1)" font-size="4.85" text-anchor="end">5</text>
<text class="t" transform="translate(389.7 200.18) scale(.88 1)" font-size="4.85" text-anchor="end">10</text>
<text class="t" transform="translate(389.7 189.16) scale(.88 1)" font-size="4.85" text-anchor="end">15</text>
<text class="t" transform="translate(389.7 178.14) scale(.88 1)" font-size="4.85" text-anchor="end">20</text>
<text class="t" transform="translate(393.7 273.35) scale(.88 1)" font-size="4.85" text-anchor="middle">0</text>
<text class="t" transform="translate(430.96 273.35) scale(.88 1)" font-size="4.85" text-anchor="middle">20</text>
<text class="t" transform="translate(468.23 273.35) scale(.88 1)" font-size="4.85" text-anchor="middle">40</text>
<text class="t" transform="translate(505.49 273.35) scale(.88 1)" font-size="4.85" text-anchor="middle">60</text>
<text class="t" transform="translate(542.75 273.35) scale(.88 1)" font-size="4.85" text-anchor="middle">80</text>
<text x="467.97" y="158.12" font-size="5.02" text-anchor="middle">Induced Voltage (V)</text>
<text x="468.27" y="277.95" font-size="4.54" letter-spacing="0.22" text-anchor="middle" style="stroke-width:.22px">L (mm)</text>
<text transform="translate(371.31 215.18) rotate(-90)" font-size="4.95" text-anchor="middle">Coil Voltage (V)</text>
<text x="385.5" y="165.84" font-size="5.25" text-anchor="end">×10<tspan dy="-1.72" font-size="3.43">-6</tspan></text>
<rect x="485.4" y="165.1" width="57.6" height="9" fill="#777" opacity="0.8" rx="1"/>
<rect x="484.7" y="164.3" width="57.6" height="9" fill="#fff" stroke="#666" stroke-width="0.75" rx="1"/>
<path d="M487.02 169.15h6.67" stroke="#5069ec" stroke-width="0.9"/>
<text x="495.61" y="170.57" font-size="4.85">Particle size 37.5μm</text>
<circle cx="543.05" cy="153.95" r="1.75" fill="#3f63b8"/><ellipse cx="542.95" cy="153.95" rx="0.55" ry="1.3" fill="#8fcf8a"/>
<text class="cap" transform="translate(470 287.9) scale(1.05 1)" font-size="12.4" text-anchor="middle">(f)</text>
</g>
</g>
</svg></body></html>
